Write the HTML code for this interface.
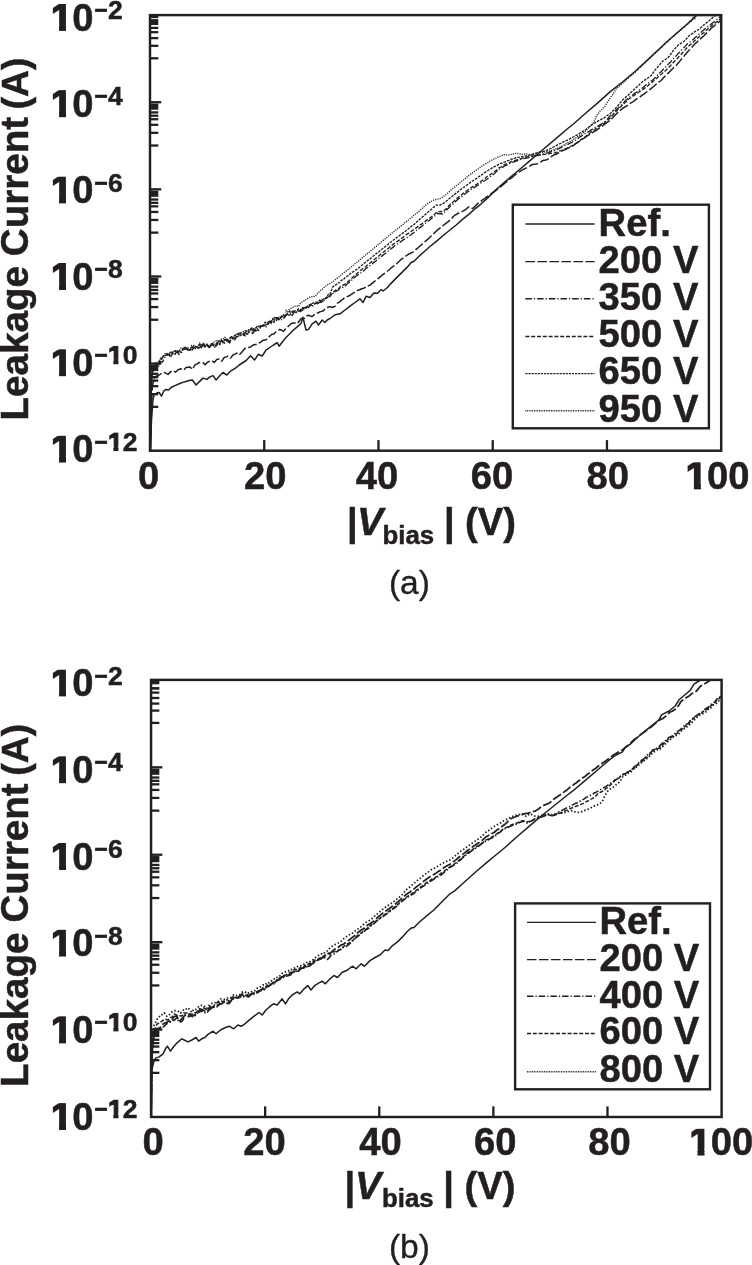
<!DOCTYPE html>
<html><head><meta charset="utf-8"><title>Leakage current</title>
<style>html,body{margin:0;padding:0;background:#fff}svg{display:block}text{font-family:"Liberation Sans",sans-serif}</style></head><body>
<svg width="752" height="1265" viewBox="0 0 752 1265">
<rect width="752" height="1265" fill="#fff"/>
<defs><clipPath id="c1a"><path d="M-6 -26.58H38.2V-6.15H15.01V0.3H8.07V-6.15H-6Z"/></clipPath><clipPath id="c1b"><path d="M-6 -18.53H26.5V-4.75H10.47V0.3H5.54V-4.75H-6Z"/></clipPath></defs>
<clipPath id="clipa"><rect x="150.0" y="15.1" width="571.20" height="435.60"/></clipPath>
<g clip-path="url(#clipa)" fill="none" stroke="#231f20" stroke-linejoin="round">
<polyline points="150.4,450.5 151.5,420.0 153.0,400.0 154.2,394.4 156.8,393.1 159.2,392.5 161.5,396.2 163.6,391.2 166.1,389.4 168.6,390.0 171.1,387.5 174.9,385.6 179.2,383.8 184.2,381.9 189.2,380.6 192.4,380.0 196.1,385.0 199.2,381.9 203.0,378.1 206.8,379.4 209.9,376.9 213.0,375.6 216.1,380.0 219.2,376.2 223.0,372.5 226.8,375.0 230.5,371.2 235.5,368.1 239.2,365.0 243.0,362.5 246.2,360.5 250.5,355.8 254.5,360.0 258.3,354.3 262.2,356.0 266.0,350.2 269.8,347.5 273.5,345.0 277.2,342.7 279.1,346.2 282.9,341.2 286.0,337.5 289.8,333.8 293.5,330.0 297.2,326.9 301.0,323.5 302.9,317.3 306.0,330.0 308.5,329.4 312.2,323.8 316.0,321.2 318.5,325.0 322.2,320.0 324.8,322.5 327.2,320.0 330.0,318.5 335.0,314.8 340.0,313.8 345.0,310.0 350.0,306.2 355.0,302.5 360.0,298.8 363.0,302.5 366.2,296.2 370.0,297.5 373.8,293.0 377.5,293.2 381.2,289.5 383.0,291.0 387.5,287.5 390.0,284.4 395.0,279.4 401.2,273.1 407.5,266.9 411.2,262.5 414.0,261.2 418.8,256.5 423.8,252.0 430.0,246.5 437.5,240.3 445.0,234.0 450.0,230.0 456.2,225.0 462.5,219.4 468.8,214.4 475.0,208.8 481.2,203.8 487.5,198.1 495.0,190.5 505.0,181.9 517.5,171.2 530.0,160.6 542.5,150.0 555.0,139.4 567.5,128.8 574.0,123.5 585.0,113.8 597.5,103.1 610.0,91.9 622.5,82.0 635.0,71.5 651.9,55.8 669.1,39.8 686.4,24.7 695.0,16.9 699.0,13.0" stroke-width="1.5"/>
<polyline points="150.4,450.5 150.4,448.9 150.5,447.3 150.5,445.6 150.5,444.0 150.6,442.4 150.6,440.8 150.7,439.2 150.7,437.5 150.7,435.9 150.8,434.3 150.8,432.7 150.8,431.1 150.9,429.4 150.9,427.8 150.9,426.2 151.0,424.6 151.0,423.0 151.0,421.3 151.1,419.7 151.1,418.1 151.2,416.5 151.2,414.9 151.2,413.2 151.3,411.6 151.3,410.0 151.4,408.3 151.5,406.7 151.5,405.0 151.6,403.3 151.7,401.7 151.8,400.0 151.9,398.3 151.9,396.7 152.0,395.0 152.1,393.3 152.2,391.7 152.3,390.0 152.3,388.3 152.4,386.7 152.5,385.0 153.0,383.4 153.5,381.8 154.0,380.2 154.5,378.6 155.0,377.0 157.1,376.0 159.2,375.0 161.8,373.1 164.2,372.5 166.1,373.4 168.0,374.4 170.5,371.9 173.0,370.6 175.5,372.2 178.0,369.8 181.1,368.8 183.6,370.2 186.1,367.5 188.0,367.2 189.9,366.9 192.4,369.4 193.7,367.2 194.9,365.0 197.1,363.8 199.2,362.5 201.1,362.5 203.0,362.5 204.9,364.8 208.0,361.9 209.9,361.2 211.8,360.6 214.2,362.5 216.8,359.4 219.9,358.8 221.8,361.2 223.0,359.4 224.2,357.5 226.1,356.9 228.0,356.2 230.5,358.1 233.0,355.0 234.9,354.1 236.8,353.1 239.2,355.0 242.0,352.0 243.4,350.3 244.8,348.5 246.4,348.2 248.1,347.3 249.8,347.5 251.6,346.2 253.5,344.8 255.4,344.6 257.2,344.5 259.1,343.2 261.0,341.9 262.9,340.4 264.8,339.9 266.6,339.5 268.5,337.4 270.4,335.5 272.2,334.2 274.1,333.8 276.0,331.8 277.9,330.6 279.8,329.4 281.6,330.2 283.5,331.4 285.4,329.0 287.2,327.4 289.1,325.5 291.0,323.8 292.9,323.0 294.8,322.9 297.2,323.7 299.1,321.2 301.0,318.6 302.9,318.4 304.8,318.2 306.6,316.0 308.5,315.2 310.4,316.1 312.2,316.5 314.1,314.9 316.0,313.2 317.9,313.0 319.8,311.9 321.6,311.4 323.5,310.7 325.4,308.3 327.2,307.5 330.0,306.6 331.9,307.5 333.8,306.8 335.0,306.4 336.2,304.5 337.5,303.1 339.4,302.1 341.2,300.3 343.1,299.2 345.0,297.2 347.1,296.6 349.2,295.8 351.2,294.3 353.3,293.1 355.4,291.7 357.5,290.5 359.6,289.7 361.7,288.8 363.8,288.2 365.8,287.2 367.9,286.0 370.0,285.1 372.1,283.4 374.2,281.7 376.2,280.0 378.3,278.4 380.4,276.7 382.5,274.9 384.6,273.3 386.7,271.7 388.8,270.0 390.8,268.2 392.9,266.7 395.0,265.1 397.1,263.2 399.2,261.3 401.2,259.3 403.3,257.9 405.4,256.3 407.5,254.9 409.1,254.0 410.8,253.1 412.4,252.3 414.0,251.3 416.0,249.4 418.0,247.8 420.0,246.0 421.6,244.6 423.2,243.1 424.8,241.8 426.4,240.4 428.0,239.1 429.9,237.2 431.8,235.4 433.7,233.6 435.6,231.8 437.5,230.1 439.6,228.4 441.7,226.8 443.8,225.0 445.8,223.4 447.9,221.8 450.0,220.1 451.7,218.4 453.3,216.5 455.0,215.1 456.7,214.3 458.3,213.2 460.0,212.4 461.7,211.6 463.3,210.9 465.0,210.0 466.9,208.4 468.8,206.8 470.6,207.7 472.5,208.6 474.2,207.2 475.8,205.5 477.5,203.7 479.2,202.6 480.8,201.4 482.5,199.9 484.2,198.8 485.8,197.5 487.5,196.4 489.1,195.3 490.8,193.9 492.4,192.9 494.0,192.0 495.6,190.6 497.2,189.3 498.8,188.2 500.4,186.9 502.0,185.6 503.6,184.1 505.2,182.8 506.8,181.7 508.4,180.2 510.0,179.0 511.9,177.6 513.8,176.0 515.6,174.5 517.5,172.9 519.6,171.6 521.7,170.4 523.8,169.1 525.6,168.3 527.5,167.2 529.2,166.5 530.8,165.4 532.5,164.5 534.2,164.2 535.8,164.0 537.5,163.7 539.2,162.6 540.8,161.8 542.5,160.7 544.2,160.2 545.8,159.9 547.5,159.5 549.2,158.0 550.8,157.0 552.5,155.7 554.2,154.9 555.8,154.2 557.5,153.5 560.0,151.9 561.8,151.1 563.6,150.2 565.4,149.6 567.1,148.5 568.9,147.8 570.7,146.9 572.5,146.1 574.3,144.9 576.1,143.5 577.9,142.3 579.6,141.0 581.4,139.8 583.2,138.7 585.0,137.6 586.8,136.2 588.6,135.1 590.4,134.1 592.1,132.9 593.9,131.7 595.7,130.8 597.5,129.4 599.3,128.2 601.1,126.9 602.9,125.6 604.6,124.2 606.4,122.9 608.2,121.7 610.0,120.5 611.6,118.8 613.1,117.3 614.7,115.7 616.2,113.9 618.3,112.3 620.4,110.4 622.5,108.5 624.6,107.2 626.7,106.0 628.8,104.5 630.8,102.9 632.9,101.8 635.0,100.1 637.1,98.7 639.2,97.5 641.2,95.9 643.0,94.6 644.8,93.3 646.6,92.0 648.4,90.5 650.1,89.3 651.9,87.8 653.6,86.5 655.3,85.0 657.1,83.5 658.8,82.2 660.5,81.0 662.2,79.2 663.9,77.3 665.7,75.7 667.4,73.9 669.1,72.2 670.8,70.4 672.6,68.7 674.3,67.0 676.1,65.5 677.8,63.5 679.2,62.0 680.7,60.1 682.1,58.3 683.5,56.8 685.0,54.8 686.4,53.3 688.1,51.3 689.9,49.5 691.6,47.6 693.4,45.6 695.1,43.7 696.8,42.3 698.5,40.5 700.3,38.9 702.0,37.4 703.7,36.0 705.4,34.1 707.2,32.4 708.9,30.8 710.7,29.0 712.4,27.3 714.3,25.8 716.2,24.1 718.1,22.6 720.0,21.1 722.0,19.5 724.0,18.1" stroke-width="1.5" stroke-dasharray="9.5 2.5"/>
<polyline points="150.4,451.3 150.4,450.2 150.4,450.3 150.5,446.4 150.5,445.0 150.5,443.8 150.5,440.2 150.5,440.2 150.6,439.1 150.6,438.2 150.6,433.3 150.6,432.6 150.6,430.0 150.7,431.8 150.7,429.6 150.7,424.9 150.7,427.8 150.7,426.0 150.7,422.9 150.8,421.1 150.8,417.3 150.8,415.0 150.8,415.8 150.8,411.9 150.9,410.9 150.9,409.5 150.9,406.9 150.9,407.3 150.9,405.6 151.0,405.9 151.0,402.7 151.0,401.7 151.1,399.4 151.1,398.5 151.2,395.9 151.2,393.4 151.2,395.3 151.3,393.6 151.3,391.3 151.4,389.0 151.5,385.5 151.5,383.5 151.6,382.1 151.6,379.4 151.7,381.2 151.7,377.8 151.8,378.3 151.8,374.5 152.2,375.4 152.6,373.0 153.0,367.1 156.0,365.6 158.3,367.0 160.4,361.9 162.5,362.0 165.0,357.1 168.0,354.0 169.7,356.0 171.3,356.1 173.0,353.0 175.1,351.5 177.2,352.1 179.2,354.5 181.3,352.9 183.4,349.2 185.5,349.2 187.6,348.2 189.7,347.7 191.8,350.9 193.8,347.4 195.9,348.7 198.0,347.6 199.7,345.8 201.3,347.7 203.0,344.2 204.9,347.1 206.8,345.0 209.2,347.6 211.1,345.4 213.0,344.4 214.7,347.1 216.3,345.6 218.0,342.6 219.7,344.7 221.3,340.8 223.0,341.1 224.7,343.3 226.3,342.2 228.0,339.6 229.7,343.0 231.3,338.5 233.0,337.9 234.7,339.8 236.3,337.1 238.0,336.3 240.0,334.4 242.0,333.5 243.6,335.3 245.2,333.0 246.9,334.1 248.5,332.4 250.6,331.9 252.7,333.5 254.8,330.4 256.8,330.0 258.9,330.6 261.0,326.5 263.1,325.2 265.2,327.6 267.2,326.0 269.3,322.1 271.4,320.7 273.5,322.1 275.6,322.3 277.7,317.9 279.8,320.7 281.8,319.5 283.9,317.3 286.0,315.6 288.1,313.3 290.2,312.1 292.2,315.7 294.3,311.5 296.4,312.7 298.5,310.0 300.6,311.6 302.7,309.9 304.8,308.0 306.8,306.5 308.9,307.5 311.0,304.1 313.1,303.8 315.2,304.0 317.2,304.0 319.3,302.4 321.4,300.5 323.5,301.4 325.1,298.5 326.8,297.1 328.4,296.9 330.0,296.4 332.1,293.9 334.2,292.5 336.2,291.2 338.0,290.4 339.8,288.5 341.5,287.7 343.2,287.3 345.0,286.2 347.1,284.0 349.2,282.4 351.2,280.6 353.3,278.5 355.4,276.8 357.5,275.2 359.6,274.0 361.7,272.3 363.8,270.7 365.8,268.6 367.9,267.2 370.0,265.5 372.1,263.9 374.2,262.1 376.2,260.7 378.3,258.6 380.4,257.2 382.5,255.6 384.6,254.0 386.7,252.3 388.8,250.6 390.8,249.0 392.9,247.4 395.0,245.4 397.1,244.2 399.2,242.9 401.2,241.4 403.3,239.8 405.4,238.6 407.5,237.2 409.1,235.9 410.8,234.8 412.4,233.6 414.0,232.5 416.0,230.9 418.0,229.0 420.0,227.6 421.7,226.4 423.3,225.0 425.0,223.6 427.1,221.9 429.2,220.5 431.2,218.8 433.3,217.0 435.4,215.4 437.5,213.3 439.2,213.8 440.8,213.5 442.5,214.0 444.4,212.2 446.2,210.4 448.1,208.6 450.0,206.5 452.1,204.7 454.2,203.0 456.2,200.9 458.3,199.1 460.4,197.6 462.5,196.1 464.6,194.2 466.7,192.5 468.8,191.2 470.8,189.7 472.9,188.3 475.0,187.2 477.1,185.6 479.2,184.4 481.2,182.8 483.3,181.5 485.4,180.2 487.5,178.7 489.1,177.6 490.8,176.2 492.4,175.2 494.0,173.9 496.4,171.6 498.8,169.5 500.8,168.4 502.9,167.1 505.0,165.7 507.1,165.0 509.2,163.8 511.2,162.8 513.3,162.2 515.4,161.3 517.5,160.5 519.6,159.9 521.7,159.3 523.8,158.6 525.8,158.0 527.9,157.8 530.0,157.4 532.1,156.7 534.2,156.1 536.2,155.6 538.3,155.5 540.4,154.6 542.5,154.5 544.6,153.8 546.7,153.1 548.8,152.7 550.8,151.7 552.9,151.0 555.0,150.5 557.1,149.3 559.2,148.7 561.2,147.4 563.3,146.3 565.4,145.3 567.5,144.6 569.2,143.6 570.8,142.8 572.5,142.0 574.3,140.9 576.1,139.8 577.9,138.5 579.6,137.1 581.4,136.1 583.2,134.8 585.0,133.5 586.8,132.7 588.6,131.7 590.4,130.4 592.1,129.4 593.9,128.3 595.7,127.4 597.5,126.3 599.6,125.1 601.7,123.9 603.8,122.4 605.8,120.6 607.9,118.5 610.0,116.0 612.1,114.4 614.2,112.2 616.2,109.8 618.3,107.9 620.4,105.9 622.5,104.0 624.6,101.6 626.7,99.6 628.8,97.7 630.8,96.2 632.9,94.8 635.0,93.1 637.1,91.7 639.2,90.1 641.2,88.9 643.3,87.2 645.4,85.5 647.5,83.9 649.1,82.4 650.8,81.4 652.4,80.2 654.0,79.0 655.6,77.1 657.2,75.5 658.9,73.6 660.5,72.2 662.2,70.5 663.9,68.5 665.7,66.7 667.4,65.2 669.1,63.5 670.8,61.7 672.6,59.7 674.3,57.6 676.1,56.1 677.8,53.8 679.5,52.3 681.2,50.2 683.0,48.5 684.7,46.9 686.4,44.8 688.1,43.3 689.9,42.0 691.6,40.6 693.4,39.2 695.1,37.6 696.8,36.2 698.5,34.5 700.3,33.2 702.0,31.3 703.7,29.9 705.4,28.6 707.2,27.1 708.9,25.9 710.7,24.5 712.4,23.0 714.3,21.7 716.2,20.0 718.1,18.4 720.0,16.9 722.0,15.7 724.0,14.2" stroke-width="1.35" stroke-dasharray="6.5 2 1.2 2"/>
<polyline points="150.4,450.7 150.4,449.9 150.4,448.3 150.5,444.2 150.5,441.9 150.5,442.1 150.5,439.9 150.5,440.9 150.6,438.7 150.6,436.6 150.6,434.8 150.6,433.7 150.6,429.5 150.7,429.3 150.7,426.4 150.7,428.3 150.7,422.6 150.7,424.6 150.7,419.4 150.8,420.7 150.8,417.4 150.8,416.1 150.8,416.6 150.8,411.0 150.9,409.6 150.9,412.1 150.9,408.5 150.9,404.9 150.9,407.5 151.0,405.7 151.0,400.1 151.0,399.9 151.1,396.9 151.1,396.2 151.2,396.0 151.2,392.2 151.2,393.1 151.3,388.4 151.3,387.3 151.4,388.8 151.5,385.2 151.5,383.7 151.6,382.9 151.6,380.7 151.7,378.6 151.7,375.3 151.8,377.0 151.8,376.5 152.2,374.8 152.6,371.4 153.0,368.1 156.0,365.6 158.3,365.2 160.4,362.1 162.5,357.1 165.0,355.6 168.0,354.6 169.7,354.7 171.3,355.5 173.0,353.4 175.1,350.5 177.2,353.7 179.2,351.2 181.3,351.0 183.4,349.0 185.5,349.4 187.6,348.9 189.7,350.4 191.8,346.9 193.8,348.5 195.9,346.2 198.0,348.1 199.7,344.3 201.3,344.9 203.0,344.6 204.9,346.4 206.8,343.9 209.2,347.1 211.1,344.7 213.0,343.8 214.7,344.0 216.3,345.7 218.0,342.7 219.7,344.4 221.3,339.9 223.0,342.9 224.7,340.2 226.3,339.3 228.0,342.0 229.7,342.0 231.3,336.8 233.0,337.3 234.7,339.1 236.3,336.4 238.0,335.4 240.0,333.3 242.0,332.6 243.6,334.7 245.2,335.9 246.9,335.3 248.5,332.3 250.6,329.2 252.7,329.8 254.8,331.2 256.8,330.6 258.9,328.8 261.0,326.0 263.1,326.3 265.2,324.9 267.2,324.4 269.3,321.5 271.4,323.6 273.5,322.2 275.6,317.8 277.7,317.6 279.8,319.6 281.8,315.9 283.9,318.3 286.0,315.4 288.1,315.4 290.2,314.6 292.2,311.5 294.3,311.0 296.4,310.1 298.5,311.1 300.6,310.4 302.7,307.5 304.8,309.8 306.8,306.9 308.9,305.3 311.0,305.0 313.1,306.0 315.2,303.7 317.2,303.0 319.3,303.0 321.4,302.2 323.5,300.8 325.1,298.6 326.8,297.8 328.4,297.2 330.0,295.7 332.1,293.5 334.2,291.3 336.2,289.7 338.0,289.1 339.8,287.5 341.5,285.3 343.2,285.1 345.0,284.1 347.1,282.2 349.2,280.6 351.2,278.9 353.3,276.7 355.4,275.1 357.5,272.9 359.6,271.1 361.7,269.6 363.8,267.9 365.8,266.6 367.9,264.8 370.0,263.0 372.1,261.4 374.2,259.5 376.2,258.0 378.3,256.4 380.4,254.6 382.5,252.9 384.6,251.3 386.7,249.6 388.8,248.1 390.8,246.2 392.9,244.5 395.0,242.9 397.1,241.6 399.2,240.1 401.2,238.6 403.3,237.2 405.4,235.4 407.5,233.8 409.1,232.9 410.8,231.7 412.4,230.5 414.0,229.6 416.0,227.9 418.0,226.4 420.0,224.9 421.7,224.1 423.3,222.4 425.0,221.4 427.1,219.9 429.2,218.4 431.2,217.0 433.3,215.0 435.4,213.5 437.5,211.5 439.2,211.7 440.8,211.5 442.5,211.7 444.4,210.2 446.2,208.7 448.1,206.4 450.0,204.5 452.1,202.8 454.2,201.0 456.2,198.9 458.3,197.4 460.4,195.8 462.5,193.9 464.6,192.4 466.7,190.7 468.8,189.2 470.8,187.8 472.9,186.6 475.0,185.1 477.1,184.0 479.2,182.4 481.2,181.2 483.3,179.6 485.4,178.0 487.5,176.3 489.1,175.2 490.8,174.3 492.4,173.0 494.0,171.8 496.4,170.2 498.8,167.9 500.8,167.0 502.9,165.6 505.0,164.3 507.1,163.7 509.2,162.9 511.2,161.7 513.3,160.8 515.4,160.3 517.5,159.6 519.6,158.9 521.7,158.3 523.8,157.6 525.8,157.3 527.9,156.7 530.0,156.4 532.1,156.0 534.2,155.7 536.2,155.3 538.3,155.4 540.4,154.8 542.5,154.7 544.6,154.3 546.7,154.4 548.8,153.8 550.8,153.2 552.9,153.2 555.0,152.8 557.1,152.1 559.2,151.2 561.2,150.7 563.3,149.6 565.4,148.7 567.5,148.2 569.2,147.3 570.8,146.2 572.5,145.7 574.3,144.1 576.2,143.1 578.0,141.8 579.8,140.6 581.5,139.3 583.2,138.4 585.0,136.9 587.1,135.2 589.2,133.5 591.2,131.9 593.3,130.7 595.4,129.1 597.5,127.3 599.6,126.3 601.7,124.9 603.8,123.5 605.8,121.7 607.9,119.9 610.0,118.2 611.6,116.4 613.1,114.8 614.7,113.1 616.2,111.6 617.8,109.8 619.4,108.2 620.9,106.6 622.5,105.1 624.6,102.9 626.7,101.2 628.8,99.0 630.8,97.7 632.9,96.1 635.0,94.7 637.1,93.3 639.2,91.8 641.2,90.5 643.3,89.1 645.4,87.6 647.5,86.2 649.1,84.6 650.8,83.3 652.4,82.1 654.0,80.8 655.6,79.3 657.2,77.8 658.9,76.4 660.5,74.8 662.2,73.5 663.9,71.9 665.7,70.4 667.4,68.8 669.1,67.1 670.8,65.4 672.6,63.2 674.3,61.5 676.1,60.0 677.8,58.0 679.5,56.0 681.2,54.3 683.0,52.3 684.7,50.4 686.4,48.4 688.1,46.7 689.9,44.9 691.6,43.5 693.4,41.9 695.1,40.2 696.8,38.6 698.5,37.2 700.3,35.4 702.0,33.9 703.7,32.7 705.4,31.1 707.2,29.6 708.9,27.8 710.7,26.4 712.4,25.0 714.3,23.6 716.2,22.2 718.1,20.6 720.0,18.9 722.0,17.4 724.0,16.2" stroke-width="1.35" stroke-dasharray="4 1.8"/>
<polyline points="150.4,448.9 150.4,449.4 150.4,447.7 150.5,446.9 150.5,442.1 150.5,440.7 150.5,438.6 150.5,437.4 150.6,438.2 150.6,433.7 150.6,434.0 150.6,430.8 150.6,429.6 150.7,428.6 150.7,428.9 150.7,426.2 150.7,421.7 150.7,421.3 150.7,419.1 150.8,420.9 150.8,419.0 150.8,417.4 150.8,415.8 150.8,413.8 150.9,413.2 150.9,410.8 150.9,406.6 150.9,407.8 150.9,404.4 151.0,404.1 151.0,401.5 151.0,399.3 151.1,397.3 151.1,396.0 151.2,393.8 151.2,391.3 151.2,393.0 151.3,391.3 151.3,390.6 151.4,387.5 151.5,385.2 151.5,384.5 151.6,380.0 151.6,380.9 151.7,378.2 151.7,375.3 151.8,373.8 151.8,373.7 152.2,370.6 152.6,369.7 153.0,368.6 156.0,365.1 158.3,361.8 160.4,360.6 162.5,357.0 165.0,354.9 168.0,353.1 169.7,353.3 171.3,351.3 173.0,353.4 175.1,354.3 177.2,350.9 179.2,351.9 181.3,352.3 183.4,347.4 185.5,347.3 187.6,350.2 189.7,350.0 191.8,348.8 193.8,345.9 195.9,346.6 198.0,348.3 199.7,347.7 201.3,346.7 203.0,343.2 204.9,346.7 206.8,344.8 209.2,347.6 211.1,343.6 213.0,346.4 214.7,343.9 216.3,343.8 218.0,340.7 219.7,342.0 221.3,341.2 223.0,340.6 224.7,339.5 226.3,341.2 228.0,339.3 229.7,338.3 231.3,336.9 233.0,338.6 234.7,335.2 236.3,335.2 238.0,333.8 240.0,335.7 242.0,334.4 243.6,333.7 245.2,330.6 246.9,331.9 248.5,330.8 250.6,328.8 252.7,327.5 254.8,331.5 256.8,326.4 258.9,326.5 261.0,325.5 263.1,325.9 265.2,322.2 267.2,323.0 269.3,321.3 271.4,322.4 273.5,317.2 275.6,318.0 277.7,317.9 279.8,319.4 281.8,316.3 283.9,315.3 286.0,315.4 288.1,312.8 290.2,310.7 292.2,312.1 294.3,313.1 296.4,311.5 298.5,308.6 300.6,309.7 302.7,309.7 304.8,306.7 306.8,307.0 308.9,305.2 311.0,303.9 313.1,303.2 315.2,302.2 317.2,301.9 319.3,300.2 321.4,300.4 323.5,298.8 325.1,299.1 326.8,297.2 328.4,294.3 330.0,294.6 330.6,291.7 331.2,290.7 331.9,289.2 332.5,287.1 334.3,285.7 336.1,284.7 337.9,282.8 339.6,282.7 341.4,280.2 343.2,279.9 345.0,277.7 346.8,276.5 348.6,275.3 350.4,273.6 352.1,272.4 353.9,271.3 355.7,270.0 357.5,269.0 359.3,267.5 361.1,265.7 362.9,264.5 364.6,262.9 366.4,261.7 368.2,260.1 370.0,258.9 371.8,257.3 373.6,255.7 375.4,254.3 377.1,252.9 378.9,251.8 380.7,250.0 382.5,248.7 384.3,247.3 386.1,245.8 387.9,244.6 389.6,242.9 391.4,241.7 393.2,240.2 395.0,238.9 396.8,237.5 398.6,236.3 400.4,234.8 402.1,233.6 403.9,232.3 405.7,231.0 407.5,229.8 409.2,228.1 410.8,226.8 412.5,225.6 414.6,223.9 416.7,221.9 418.8,219.9 420.8,218.5 422.9,216.6 425.0,214.8 427.1,213.0 429.2,211.1 431.2,209.5 432.9,207.8 434.6,206.6 436.2,205.1 438.1,205.2 440.0,205.1 441.9,204.0 443.8,203.1 445.8,201.6 447.9,199.9 450.0,198.0 452.1,196.5 454.2,194.6 456.2,193.0 458.3,191.6 460.4,189.8 462.5,188.0 464.6,186.8 466.7,185.2 468.8,183.6 470.8,182.1 472.9,180.8 475.0,179.3 477.1,178.1 479.2,176.4 481.2,175.1 482.9,174.0 484.6,172.6 486.2,171.7 488.3,170.3 490.4,169.0 492.5,167.6 494.6,166.6 496.7,165.7 498.8,164.4 500.8,163.4 502.9,162.7 505.0,161.9 507.1,160.9 509.2,160.3 511.2,159.2 513.3,158.9 515.4,158.0 517.5,157.3 519.6,157.1 521.7,156.6 523.8,156.4 525.8,155.8 527.9,155.4 530.0,155.1 531.7,154.3 533.3,154.0 535.0,153.4 536.7,152.8 538.3,152.6 540.0,151.8 541.7,151.9 543.3,151.4 545.0,151.4 546.7,150.3 548.3,149.4 550.0,148.8 551.7,148.1 553.3,147.0 555.0,146.2 557.1,145.2 559.2,144.0 561.2,143.1 563.3,141.9 565.4,141.0 567.5,140.1 569.2,139.1 570.8,138.2 572.5,137.3 574.3,136.5 576.1,135.3 577.9,134.5 579.6,133.3 581.4,132.0 583.2,131.2 585.0,130.2 587.1,128.5 589.2,126.8 591.2,125.1 593.3,123.8 595.4,122.6 597.5,121.3 599.6,120.1 601.7,119.0 603.8,118.2 605.8,116.7 607.9,115.0 610.0,113.8 612.1,111.7 614.2,109.6 616.2,107.6 617.8,105.8 619.4,103.7 620.9,102.0 622.5,100.0 624.6,98.2 626.7,96.2 628.8,94.6 630.8,92.5 632.9,90.8 635.0,88.7 637.1,86.8 639.2,84.8 641.3,82.7 643.4,81.1 645.4,79.6 647.5,78.3 649.2,77.0 650.9,75.8 652.3,73.9 653.7,72.0 655.1,69.9 656.6,68.2 658.1,66.5 659.6,64.9 661.1,62.9 662.6,61.3 664.4,60.1 666.1,59.0 667.9,57.8 669.2,56.3 670.5,54.2 671.9,52.7 673.2,50.6 675.0,48.6 676.7,47.0 678.5,44.7 680.3,43.7 682.0,42.6 683.8,41.5 685.6,39.7 687.3,37.7 689.1,35.7 690.9,34.4 692.7,33.4 694.5,31.9 696.6,30.7 698.7,29.5 700.4,28.2 702.0,26.6 703.7,25.1 705.4,23.7 707.2,22.3 708.9,20.9 710.7,19.3 712.4,17.8 714.1,16.7 715.8,15.3 717.5,14.0" stroke-width="1.35" stroke-dasharray="2.6 1.1"/>
<polyline points="150.4,447.6 150.4,448.8 150.4,447.0 150.5,446.7 150.5,441.9 150.5,440.2 150.5,440.8 150.5,438.9 150.6,435.5 150.6,435.7 150.6,432.7 150.6,432.9 150.6,428.1 150.7,427.0 150.7,428.6 150.7,424.4 150.7,422.3 150.7,423.3 150.7,420.8 150.8,416.9 150.8,417.2 150.8,416.1 150.8,412.1 150.8,412.8 150.9,408.6 150.9,408.0 150.9,405.1 150.9,404.1 150.9,406.2 151.0,401.8 151.0,403.0 151.0,398.7 151.1,397.9 151.1,397.5 151.2,395.0 151.2,390.6 151.2,391.3 151.3,389.9 151.3,386.1 151.4,384.1 151.5,386.2 151.5,382.8 151.6,379.7 151.6,379.3 151.7,376.5 151.7,377.7 151.8,374.6 151.8,371.1 152.2,372.7 152.6,367.4 153.0,366.4 156.0,362.7 158.3,364.2 160.4,358.1 162.5,357.8 165.0,353.6 168.0,353.9 169.7,354.3 171.3,352.9 173.0,351.9 175.1,351.4 177.2,350.6 179.2,350.7 181.3,347.7 183.4,348.9 185.5,347.1 187.6,349.9 189.7,349.9 191.8,345.4 193.8,345.3 195.9,347.4 198.0,346.2 199.7,343.0 201.3,345.6 203.0,346.1 204.9,344.0 206.8,344.1 209.2,346.3 211.1,346.9 213.0,342.4 214.7,341.9 216.3,340.7 218.0,342.1 219.7,340.7 221.3,339.1 223.0,339.1 224.7,337.3 226.3,338.6 228.0,341.8 229.7,339.1 231.3,336.9 233.0,339.2 234.7,335.8 236.3,334.7 238.0,333.1 240.0,332.7 242.0,332.1 243.6,331.6 245.2,334.0 246.9,330.5 248.5,329.8 250.6,330.7 252.7,331.3 254.8,327.5 256.8,328.9 258.9,326.2 261.0,326.3 263.1,325.3 265.2,325.8 267.2,323.7 269.3,321.4 271.4,321.8 273.5,318.5 275.6,317.8 277.7,319.5 279.8,317.0 281.8,317.1 283.9,314.6 286.0,316.0 286.0,313.2 286.0,310.1 287.6,311.8 289.2,309.5 290.9,308.4 292.5,307.5 294.5,306.3 296.5,305.9 298.5,306.5 300.6,303.2 302.7,301.7 304.8,300.4 306.8,299.3 308.9,297.6 311.0,297.0 312.9,296.3 314.8,296.6 316.3,295.1 317.9,293.1 319.4,291.6 321.0,290.0 322.8,288.9 324.5,286.9 326.2,285.7 328.3,284.3 330.4,283.2 332.5,282.0 334.6,280.3 336.7,278.7 338.8,276.9 340.8,275.3 342.9,273.4 345.0,271.9 347.1,270.2 349.2,268.6 351.2,267.0 353.3,265.3 355.4,263.4 357.5,262.0 359.6,260.2 361.7,258.3 363.8,256.4 365.8,254.9 367.9,253.1 370.0,251.5 372.1,249.8 374.2,248.1 376.2,246.4 378.3,244.4 380.4,242.9 382.5,240.9 384.6,239.2 386.7,237.5 388.8,235.8 390.8,234.0 392.9,232.4 395.0,230.8 397.1,229.1 399.2,227.4 401.2,225.7 402.9,224.6 404.6,223.0 406.2,221.8 408.3,220.1 410.4,218.2 412.5,216.8 414.6,214.8 416.7,213.2 418.8,211.4 420.8,209.5 422.9,207.6 425.0,205.6 427.1,204.1 429.2,202.7 431.2,201.4 432.9,200.5 434.6,199.9 436.2,199.5 437.9,199.1 439.6,198.6 441.2,198.2 442.9,196.9 444.6,195.7 446.2,194.4 448.3,192.6 450.4,190.5 452.5,188.7 454.6,187.1 456.7,185.5 458.8,183.7 460.8,182.1 462.9,180.6 465.0,178.7 467.1,177.0 469.2,175.3 471.2,173.9 473.3,172.3 475.4,170.8 477.5,169.4 479.6,167.8 481.7,166.4 483.8,164.9 485.8,163.7 487.9,162.6 490.0,161.2 492.0,160.0 494.0,159.1 496.4,158.0 498.8,156.8 500.4,156.2 502.1,155.4 503.8,154.6 505.4,154.8 507.1,154.8 508.8,154.9 510.4,154.7 512.1,154.2 513.8,153.8 515.6,153.4 517.5,153.3 519.4,153.9 521.2,154.4 522.9,154.2 524.6,154.0 526.2,153.8 528.1,154.3 530.0,155.0 531.9,154.8 533.8,154.3 535.8,153.8 537.9,153.4 540.0,152.7 541.6,152.6 543.2,152.2 544.8,152.1 546.4,151.8 548.0,151.4 549.6,151.0 551.2,150.6 552.8,150.0 554.4,149.5 556.0,149.0 557.8,148.2 559.6,147.1 561.4,146.4 563.2,145.3 565.0,144.5 566.7,143.4 568.3,142.4 570.0,141.5 571.7,140.6 573.3,139.4 575.0,138.5 576.7,137.3 578.3,136.2 580.0,135.0 581.7,133.8 583.3,132.8 585.0,131.5 586.7,129.8 588.3,128.3 590.0,126.6 591.9,124.5 593.8,122.4 594.6,120.4 595.4,118.5 596.2,116.2 597.5,114.5 598.8,113.0 600.0,111.1 601.7,109.7 603.3,107.8 605.0,106.2 606.2,104.2 607.5,102.0 608.8,100.1 610.0,98.3 611.2,96.7 612.5,95.1 613.8,92.8 615.0,90.9 616.2,88.8 617.9,87.3 619.6,85.9 621.2,84.4 623.1,82.8 625.0,81.1 626.7,79.5 628.3,78.1 630.0,76.5 631.7,75.3 633.3,73.8 635.0,72.4 636.7,70.6 638.4,69.2 640.1,67.4 641.8,66.0 643.5,64.3 645.1,62.9 646.8,61.1 648.5,59.7 650.2,58.1 651.9,56.5 653.6,54.7 655.3,53.3 657.1,51.8 658.8,50.0 660.5,48.5 662.2,46.7 663.9,45.1 665.7,43.5 667.4,42.1 669.1,40.4 670.8,38.8 672.6,37.1 674.3,35.8 676.0,34.1 677.8,32.6 679.5,31.2 681.2,29.7 682.9,28.1 684.7,26.7 686.4,25.3 688.0,23.9 689.7,22.5 691.4,20.9 693.0,19.4 695.5,18.6 694.0,17.0 692.5,18.3" stroke-width="1.35" stroke-dasharray="1.15 1.15"/>
</g>
<rect x="150.0" y="15.1" width="571.20" height="435.60" fill="none" stroke="#231f20" stroke-width="2.45"/>
<g stroke="#231f20" stroke-width="2.3"><line x1="150.0" y1="17.00" x2="158.30" y2="17.00"/><rect x="150.0" y="19.10" width="8.3" height="5.90" fill="#231f20" stroke="none"/><line x1="150.0" y1="27.90" x2="158.30" y2="27.90"/><line x1="150.0" y1="32.20" x2="158.30" y2="32.20"/><line x1="150.0" y1="38.10" x2="158.30" y2="38.10"/><line x1="150.0" y1="45.80" x2="158.30" y2="45.80"/><line x1="150.0" y1="58.30" x2="158.30" y2="58.30"/><line x1="150.0" y1="102.22" x2="161.30" y2="102.22"/><rect x="150.0" y="103.52" width="8.3" height="6.20" fill="#231f20" stroke="none"/><line x1="150.0" y1="112.42" x2="158.30" y2="112.42"/><line x1="150.0" y1="115.72" x2="158.30" y2="115.72"/><line x1="150.0" y1="119.22" x2="158.30" y2="119.22"/><line x1="150.0" y1="124.82" x2="158.30" y2="124.82"/><line x1="150.0" y1="132.82" x2="158.30" y2="132.82"/><line x1="150.0" y1="145.52" x2="158.30" y2="145.52"/><line x1="150.0" y1="189.34" x2="161.30" y2="189.34"/><rect x="150.0" y="190.64" width="8.3" height="6.20" fill="#231f20" stroke="none"/><line x1="150.0" y1="199.54" x2="158.30" y2="199.54"/><line x1="150.0" y1="202.84" x2="158.30" y2="202.84"/><line x1="150.0" y1="206.34" x2="158.30" y2="206.34"/><line x1="150.0" y1="211.94" x2="158.30" y2="211.94"/><line x1="150.0" y1="219.94" x2="158.30" y2="219.94"/><line x1="150.0" y1="232.64" x2="158.30" y2="232.64"/><line x1="150.0" y1="276.46" x2="161.30" y2="276.46"/><rect x="150.0" y="277.76" width="8.3" height="6.20" fill="#231f20" stroke="none"/><line x1="150.0" y1="286.66" x2="158.30" y2="286.66"/><line x1="150.0" y1="289.96" x2="158.30" y2="289.96"/><line x1="150.0" y1="293.46" x2="158.30" y2="293.46"/><line x1="150.0" y1="299.06" x2="158.30" y2="299.06"/><line x1="150.0" y1="307.06" x2="158.30" y2="307.06"/><line x1="150.0" y1="319.76" x2="158.30" y2="319.76"/><line x1="150.0" y1="363.58" x2="161.30" y2="363.58"/><rect x="150.0" y="364.88" width="8.3" height="6.20" fill="#231f20" stroke="none"/><line x1="150.0" y1="373.78" x2="158.30" y2="373.78"/><line x1="150.0" y1="377.08" x2="158.30" y2="377.08"/><line x1="150.0" y1="380.58" x2="158.30" y2="380.58"/><line x1="150.0" y1="386.18" x2="158.30" y2="386.18"/><line x1="150.0" y1="394.18" x2="158.30" y2="394.18"/><line x1="150.0" y1="406.88" x2="158.30" y2="406.88"/><line x1="264.24" y1="450.7" x2="264.24" y2="440.09999999999997"/><line x1="378.48" y1="450.7" x2="378.48" y2="440.09999999999997"/><line x1="492.72" y1="450.7" x2="492.72" y2="440.09999999999997"/><line x1="606.96" y1="450.7" x2="606.96" y2="440.09999999999997"/></g>
<g><g transform="translate(51.00,30.50)"><text clip-path="url(#c1a)" font-size="38.2" font-weight="bold" fill="#231f20" stroke="#231f20" stroke-width="1.5">1</text></g><text x="72.25" y="30.5" font-size="38.2" font-weight="bold" fill="#231f20" stroke="#231f20" stroke-width="0.5">0</text><text x="94.29" y="18.8" font-size="26.5" font-weight="bold" fill="#231f20" stroke="#231f20" stroke-width="0.5" textLength="13.6" lengthAdjust="spacingAndGlyphs">−</text><text x="107.89" y="18.8" font-size="26.5" font-weight="bold" fill="#231f20" stroke="#231f20" stroke-width="0.5">2</text></g>
<g><g transform="translate(51.00,116.88)"><text clip-path="url(#c1a)" font-size="38.2" font-weight="bold" fill="#231f20" stroke="#231f20" stroke-width="1.5">1</text></g><text x="72.25" y="116.9" font-size="38.2" font-weight="bold" fill="#231f20" stroke="#231f20" stroke-width="0.5">0</text><text x="94.29" y="105.2" font-size="26.5" font-weight="bold" fill="#231f20" stroke="#231f20" stroke-width="0.5" textLength="13.6" lengthAdjust="spacingAndGlyphs">−</text><text x="107.89" y="105.2" font-size="26.5" font-weight="bold" fill="#231f20" stroke="#231f20" stroke-width="0.5">4</text></g>
<g><g transform="translate(51.00,203.26)"><text clip-path="url(#c1a)" font-size="38.2" font-weight="bold" fill="#231f20" stroke="#231f20" stroke-width="1.5">1</text></g><text x="72.25" y="203.3" font-size="38.2" font-weight="bold" fill="#231f20" stroke="#231f20" stroke-width="0.5">0</text><text x="94.29" y="191.6" font-size="26.5" font-weight="bold" fill="#231f20" stroke="#231f20" stroke-width="0.5" textLength="13.6" lengthAdjust="spacingAndGlyphs">−</text><text x="107.89" y="191.6" font-size="26.5" font-weight="bold" fill="#231f20" stroke="#231f20" stroke-width="0.5">6</text></g>
<g><g transform="translate(51.00,289.64)"><text clip-path="url(#c1a)" font-size="38.2" font-weight="bold" fill="#231f20" stroke="#231f20" stroke-width="1.5">1</text></g><text x="72.25" y="289.6" font-size="38.2" font-weight="bold" fill="#231f20" stroke="#231f20" stroke-width="0.5">0</text><text x="94.29" y="277.9" font-size="26.5" font-weight="bold" fill="#231f20" stroke="#231f20" stroke-width="0.5" textLength="13.6" lengthAdjust="spacingAndGlyphs">−</text><text x="107.89" y="277.9" font-size="26.5" font-weight="bold" fill="#231f20" stroke="#231f20" stroke-width="0.5">8</text></g>
<g><g transform="translate(51.00,376.02)"><text clip-path="url(#c1a)" font-size="38.2" font-weight="bold" fill="#231f20" stroke="#231f20" stroke-width="1.5">1</text></g><text x="72.25" y="376.0" font-size="38.2" font-weight="bold" fill="#231f20" stroke="#231f20" stroke-width="0.5">0</text><text x="94.29" y="364.3" font-size="26.5" font-weight="bold" fill="#231f20" stroke="#231f20" stroke-width="0.5" textLength="13.6" lengthAdjust="spacingAndGlyphs">−</text><g transform="translate(107.89,364.32)"><text clip-path="url(#c1b)" font-size="26.5" font-weight="bold" fill="#231f20" stroke="#231f20" stroke-width="1.1">1</text></g><text x="122.63" y="364.3" font-size="26.5" font-weight="bold" fill="#231f20" stroke="#231f20" stroke-width="0.5">0</text></g>
<g><g transform="translate(51.00,462.40)"><text clip-path="url(#c1a)" font-size="38.2" font-weight="bold" fill="#231f20" stroke="#231f20" stroke-width="1.5">1</text></g><text x="72.25" y="462.4" font-size="38.2" font-weight="bold" fill="#231f20" stroke="#231f20" stroke-width="0.5">0</text><text x="94.29" y="450.7" font-size="26.5" font-weight="bold" fill="#231f20" stroke="#231f20" stroke-width="0.5" textLength="13.6" lengthAdjust="spacingAndGlyphs">−</text><g transform="translate(107.89,450.70)"><text clip-path="url(#c1b)" font-size="26.5" font-weight="bold" fill="#231f20" stroke="#231f20" stroke-width="1.1">1</text></g><text x="122.63" y="450.7" font-size="26.5" font-weight="bold" fill="#231f20" stroke="#231f20" stroke-width="0.5">2</text></g>
<text x="148.7" y="489.1" text-anchor="middle" font-size="38.2" font-weight="bold" fill="#231f20" stroke="#231f20" stroke-width="0.5">0</text>
<text x="265.2" y="489.1" text-anchor="middle" font-size="38.2" font-weight="bold" fill="#231f20" stroke="#231f20" stroke-width="0.5">20</text>
<text x="377.1" y="489.1" text-anchor="middle" font-size="38.2" font-weight="bold" fill="#231f20" stroke="#231f20" stroke-width="0.5">40</text>
<text x="492.1" y="489.1" text-anchor="middle" font-size="38.2" font-weight="bold" fill="#231f20" stroke="#231f20" stroke-width="0.5">60</text>
<text x="607.8" y="489.1" text-anchor="middle" font-size="38.2" font-weight="bold" fill="#231f20" stroke="#231f20" stroke-width="0.5">80</text>
<g><g transform="translate(685.83,489.10)"><text clip-path="url(#c1a)" font-size="38.2" font-weight="bold" fill="#231f20" stroke="#231f20" stroke-width="1.5">1</text></g><text x="707.08" y="489.1" font-size="38.2" font-weight="bold" fill="#231f20" stroke="#231f20" stroke-width="0.5">00</text></g>
<text transform="translate(27.8,420.5) rotate(-90)" font-size="38.6" font-weight="bold" fill="#231f20" stroke="#231f20" stroke-width="0.5"><tspan x="0">Leakage</tspan> <tspan x="164.3">Current</tspan> <tspan x="311.1" font-size="37.4">(A)</tspan></text>
<text y="535.2" font-size="38.2" font-weight="bold" fill="#231f20" stroke="#231f20" stroke-width="0.5"><tspan x="347.1">|</tspan><tspan x="357.0" font-size="39.2" font-style="italic">V</tspan><tspan x="382.5" y="543.5" font-size="25.8">bias</tspan><tspan x="444.0" y="535.2">|</tspan> <tspan x="465.0">(V)</tspan></text>
<text x="409.4" y="593.9" text-anchor="middle" font-size="33.6" fill="#231f20" stroke="#231f20" stroke-width="0.35">(a)</text>
<rect x="512.8" y="204.7" width="196.10" height="223.60" fill="#fff" stroke="#231f20" stroke-width="2.4"/>
<line x1="525.4" y1="224.0" x2="594.6" y2="224.0" stroke="#231f20" stroke-width="1.35"/>
<text x="598.6" y="235.8" font-size="38.2" font-weight="bold" fill="#231f20" stroke="#231f20" stroke-width="0.5">Ref.</text>
<line x1="525.4" y1="261.6" x2="594.6" y2="261.6" stroke="#231f20" stroke-width="1.35" stroke-dasharray="9.5 2.5"/>
<text x="598.6" y="272.5" font-size="38.2" font-weight="bold" fill="#231f20" stroke="#231f20" stroke-width="0.5">200 V</text>
<line x1="525.4" y1="298.7" x2="594.6" y2="298.7" stroke="#231f20" stroke-width="1.35" stroke-dasharray="6.5 2 1.2 2"/>
<text x="598.6" y="310.0" font-size="38.2" font-weight="bold" fill="#231f20" stroke="#231f20" stroke-width="0.5">350 V</text>
<line x1="525.4" y1="336.5" x2="594.6" y2="336.5" stroke="#231f20" stroke-width="1.35" stroke-dasharray="4 1.8"/>
<text x="598.6" y="347.0" font-size="38.2" font-weight="bold" fill="#231f20" stroke="#231f20" stroke-width="0.5">500 V</text>
<line x1="525.4" y1="373.6" x2="594.6" y2="373.6" stroke="#231f20" stroke-width="1.35" stroke-dasharray="2.2 0.9"/>
<text x="598.6" y="384.4" font-size="38.2" font-weight="bold" fill="#231f20" stroke="#231f20" stroke-width="0.5">650 V</text>
<line x1="525.4" y1="410.7" x2="594.6" y2="410.7" stroke="#231f20" stroke-width="1.35" stroke-dasharray="0.9 0.8"/>
<text x="598.6" y="421.5" font-size="38.2" font-weight="bold" fill="#231f20" stroke="#231f20" stroke-width="0.5">950 V</text>
<clipPath id="clipb"><rect x="151.05" y="679.9" width="570.55" height="437.10"/></clipPath>
<g clip-path="url(#clipb)" fill="none" stroke="#231f20" stroke-linejoin="round">
<polyline points="151.3,1116.5 151.5,1090.0 151.8,1070.0 153.6,1062.5 155.5,1058.1 159.2,1056.9 163.0,1053.8 165.5,1048.8 167.4,1046.2 170.5,1051.2 173.0,1047.5 176.8,1043.1 181.8,1038.8 184.2,1040.0 188.0,1041.9 191.8,1040.0 196.1,1037.5 198.6,1041.2 201.8,1038.8 204.9,1037.5 208.0,1034.4 213.0,1031.2 216.1,1033.8 220.5,1030.0 225.5,1027.5 229.2,1026.2 233.6,1028.8 238.0,1025.0 241.0,1026.2 243.5,1025.0 248.5,1020.6 254.8,1015.6 259.1,1012.5 262.2,1015.0 266.0,1010.0 271.0,1005.6 273.5,1003.8 277.2,1005.0 282.2,998.8 285.4,1003.8 288.5,998.8 292.2,995.0 297.2,991.9 299.8,993.8 303.5,989.4 307.9,985.6 311.0,990.0 314.8,985.6 318.5,983.1 322.2,981.2 325.4,983.8 330.0,978.8 334.0,975.5 337.5,977.5 342.0,972.5 347.5,970.0 352.5,966.2 356.2,968.8 361.2,963.8 364.4,966.2 370.0,960.6 375.0,957.5 380.0,955.0 385.0,950.0 388.1,950.6 392.5,945.6 397.5,941.9 402.5,936.9 407.5,931.2 411.2,928.1 414.0,927.5 420.0,921.5 427.0,915.7 433.8,910.0 441.2,902.5 450.0,893.8 455.0,890.6 462.5,883.8 475.0,872.5 487.5,861.9 494.0,856.5 505.0,847.5 517.5,836.2 530.0,825.6 542.5,815.0 555.0,805.0 567.5,795.0 572.5,791.2 585.0,780.6 597.5,770.0 610.0,759.4 616.2,755.0 622.5,751.9 625.0,747.5 630.0,744.4 636.2,738.5 646.5,729.8 659.0,719.8 661.5,714.8 669.0,711.0 675.2,706.0 679.0,699.8 686.5,693.5 690.2,690.4 694.0,684.1 699.0,681.0 703.0,677.0" stroke-width="1.5"/>
<polyline points="151.3,1115.8 151.3,1115.2 151.3,1113.4 151.3,1111.5 151.3,1109.3 151.4,1108.8 151.4,1107.2 151.4,1104.9 151.4,1103.2 151.4,1101.0 151.4,1098.9 151.4,1098.0 151.4,1096.8 151.5,1094.1 151.5,1093.8 151.5,1091.1 151.5,1089.4 151.5,1087.4 151.5,1087.6 151.5,1085.4 151.5,1084.1 151.6,1081.9 151.6,1079.0 151.6,1078.0 151.6,1076.7 151.6,1074.2 151.6,1074.3 151.7,1071.5 151.7,1069.4 151.8,1069.1 151.8,1066.0 151.9,1066.0 151.9,1063.4 151.9,1062.0 152.0,1059.9 152.0,1058.5 152.1,1056.3 152.1,1054.4 152.2,1054.4 152.2,1051.5 152.3,1050.8 152.4,1048.0 152.6,1047.8 152.7,1045.9 152.8,1043.9 152.9,1042.2 153.1,1040.1 153.2,1038.6 153.8,1035.5 154.4,1034.2 155.0,1033.0 157.0,1028.5 159.2,1028.2 161.1,1026.6 163.0,1024.1 164.9,1023.0 166.8,1022.2 168.6,1021.0 170.5,1021.3 172.4,1018.7 174.2,1016.7 176.8,1015.8 178.0,1019.0 179.2,1021.4 181.8,1019.0 183.6,1016.6 185.5,1014.5 187.2,1015.1 188.8,1014.3 190.5,1015.3 192.4,1015.4 194.2,1015.7 196.1,1013.0 198.0,1011.2 199.7,1010.9 201.3,1011.5 203.0,1009.7 204.9,1011.3 206.8,1011.8 208.6,1009.3 210.5,1007.0 212.2,1007.8 213.8,1007.1 215.5,1005.6 217.2,1005.3 218.8,1004.3 220.5,1003.8 222.2,1003.3 223.8,1001.7 225.5,1002.2 227.4,1002.5 229.2,1002.2 231.1,1000.8 233.0,998.1 234.7,997.5 236.3,996.9 238.0,997.9 240.0,995.5 242.0,994.3 243.6,996.0 245.2,996.1 246.9,995.7 248.5,996.6 250.6,994.2 252.7,993.7 254.8,993.0 256.8,992.3 258.9,990.9 261.0,989.7 263.1,989.0 265.2,988.8 267.2,987.7 269.3,985.9 271.4,984.1 273.5,982.4 275.6,982.5 277.7,980.3 279.8,979.4 281.8,976.9 283.9,976.2 286.0,976.4 288.1,975.2 290.2,974.3 292.2,972.7 294.3,971.5 296.4,970.9 298.5,970.6 300.6,968.6 302.7,968.2 304.8,966.8 306.8,966.6 308.9,964.1 311.0,964.2 313.1,963.5 315.2,960.6 317.2,960.4 319.3,959.3 321.4,958.6 323.5,957.0 325.1,955.7 326.8,955.0 328.4,954.9 330.0,954.0 331.8,951.6 333.5,950.3 335.2,949.0 337.0,947.7 338.8,946.9 340.8,945.2 342.9,944.6 345.0,943.0 347.1,941.0 349.2,940.0 351.2,938.4 353.3,936.8 355.4,934.7 357.5,932.9 359.6,931.3 361.7,929.8 363.8,928.5 365.8,926.8 367.9,924.9 370.0,923.8 372.1,922.3 374.2,920.5 376.2,918.8 378.3,916.7 380.4,915.2 382.5,913.3 384.6,912.1 386.7,910.3 388.8,909.1 390.8,907.3 392.9,906.0 395.0,904.3 397.1,902.4 399.2,900.8 401.2,898.9 402.9,897.7 404.6,895.9 406.2,894.4 408.3,893.0 410.4,891.7 412.5,889.8 414.6,888.4 416.7,886.6 418.8,885.1 420.8,883.6 422.9,881.7 425.0,880.3 427.1,878.7 429.2,877.3 431.2,875.6 433.3,874.8 435.4,873.6 437.5,872.1 439.6,870.7 441.7,869.7 443.8,867.8 445.8,866.5 447.9,865.2 450.0,864.3 452.1,862.7 454.2,861.1 456.2,859.6 458.3,857.6 460.4,856.2 462.5,854.4 464.6,852.9 466.7,851.2 468.8,849.6 470.8,848.1 472.9,846.6 475.0,845.3 477.1,843.8 479.2,842.5 481.2,841.1 482.9,839.7 484.6,838.2 486.2,836.7 488.3,835.6 490.4,834.4 492.5,833.2 494.6,832.0 496.7,830.1 498.8,828.9 500.8,827.3 502.9,825.7 505.0,824.2 507.0,822.3 509.0,820.4 511.0,818.6 513.0,817.8 515.0,817.0 517.0,816.1 519.0,815.5 521.0,814.7 523.0,814.4 524.8,813.7 526.5,813.4 528.2,813.1 530.0,812.7 531.7,812.3 533.3,811.4 535.0,811.2 536.9,809.9 538.8,808.7 540.6,807.3 542.5,806.3 544.4,805.1 546.2,804.3 548.1,803.7 550.0,802.6 551.7,801.0 553.3,799.4 555.0,798.3 556.7,797.2 558.3,795.9 560.0,794.9 561.8,793.7 563.6,792.4 565.4,790.9 567.1,789.9 568.9,788.2 570.7,786.8 572.5,785.8 574.3,784.1 576.1,783.0 577.9,781.4 579.6,780.3 581.4,778.8 583.2,777.5 585.0,776.5 586.8,774.9 588.6,773.5 590.4,772.3 592.1,770.8 593.9,769.4 595.7,768.2 597.5,766.8 599.3,765.4 601.1,764.4 602.9,762.6 604.6,761.7 606.4,760.4 608.2,758.9 610.0,757.3 611.9,756.3 613.8,754.8 615.6,753.8 617.5,752.6 619.2,751.5 620.8,750.6 622.5,750.0 624.3,748.3 626.2,746.9 628.0,745.5 630.0,743.8 632.0,741.6 634.0,739.6 635.8,738.6 637.6,737.2 639.4,735.8 641.1,734.2 642.9,732.9 644.7,731.7 646.5,730.4 648.3,728.8 650.1,727.7 651.9,726.3 653.6,724.9 655.4,723.4 657.2,721.6 659.0,720.4 660.9,719.2 662.8,718.7 664.6,717.1 666.5,715.5 668.4,713.7 670.2,712.0 672.3,711.2 674.4,709.8 676.5,708.6 677.8,706.6 679.0,704.9 680.2,702.8 681.5,700.9 683.6,699.5 685.7,698.0 687.8,696.7 689.5,695.7 691.2,694.1 693.0,693.0 694.8,692.1 696.5,691.1 698.4,688.6 700.2,686.5 702.0,685.3 703.8,684.1 705.5,683.2 707.2,682.2 709.0,681.1 710.7,679.7 712.3,678.5 714.0,677.7" stroke-width="1.75" stroke-dasharray="9.5 2.5"/>
<polyline points="151.3,1117.4 151.3,1114.1 151.3,1112.2 151.3,1112.5 151.3,1109.2 151.4,1107.4 151.4,1106.8 151.4,1104.6 151.4,1104.0 151.4,1101.0 151.4,1100.8 151.4,1097.9 151.4,1096.8 151.5,1095.8 151.5,1093.6 151.5,1092.4 151.5,1090.4 151.5,1087.4 151.5,1087.4 151.5,1085.1 151.5,1082.9 151.6,1081.0 151.6,1080.7 151.6,1078.5 151.6,1077.5 151.6,1075.5 151.6,1074.3 151.7,1071.8 151.7,1070.5 151.8,1068.7 151.8,1066.3 151.9,1066.1 151.9,1063.1 151.9,1062.4 152.0,1061.1 152.0,1058.9 152.1,1056.2 152.1,1055.9 152.2,1054.0 152.2,1051.4 152.3,1049.4 152.5,1048.6 152.6,1045.9 152.8,1046.0 152.9,1043.4 153.1,1041.7 153.2,1039.8 153.8,1038.5 154.4,1037.2 155.0,1034.1 157.0,1031.2 159.2,1030.2 161.1,1028.0 163.0,1027.1 164.9,1025.4 166.8,1023.6 168.6,1023.2 170.5,1022.0 172.4,1019.8 174.2,1020.4 176.8,1017.8 178.0,1020.2 179.2,1022.3 181.8,1021.5 183.0,1019.8 184.2,1017.3 185.5,1015.4 187.2,1015.0 188.8,1016.8 190.5,1015.6 192.4,1016.7 194.2,1016.6 196.1,1014.7 198.0,1012.8 199.7,1011.9 201.3,1010.9 203.0,1011.3 204.9,1012.8 206.8,1013.4 208.6,1010.3 210.5,1009.1 212.2,1007.2 213.8,1007.3 215.5,1007.6 217.2,1006.7 218.8,1004.7 220.5,1004.4 222.2,1003.1 223.8,1002.6 225.5,1002.1 227.4,1003.5 229.2,1003.6 231.1,1000.9 233.0,999.2 234.7,998.6 236.3,997.6 238.0,998.1 240.0,997.3 242.0,996.0 243.6,996.9 245.2,995.2 246.9,996.4 248.5,996.9 250.6,995.4 252.7,994.3 254.8,994.5 256.8,993.0 258.9,991.8 261.0,990.4 263.1,990.9 265.2,988.4 267.2,986.6 269.3,985.6 271.4,984.4 273.5,984.3 275.6,981.6 277.7,980.5 279.8,978.8 281.8,978.5 283.9,976.9 286.0,976.1 288.1,975.8 290.2,975.1 292.2,973.9 294.3,971.4 296.4,971.2 298.5,971.3 300.6,968.8 302.7,968.2 304.8,967.9 306.8,966.6 308.9,966.2 311.0,965.0 313.1,963.3 315.2,961.7 317.2,960.4 319.3,959.4 321.4,958.0 323.5,957.9 325.5,957.7 327.5,959.3 329.2,957.7 330.8,955.6 332.5,955.0 334.2,954.0 335.8,952.1 337.5,951.5 339.2,949.8 340.8,949.6 342.5,947.5 344.4,947.2 346.2,946.5 348.1,945.2 350.0,943.5 351.9,941.9 353.8,939.6 355.6,938.0 357.5,936.6 359.2,935.3 360.8,933.3 362.5,932.4 364.2,931.4 365.8,929.8 367.5,929.0 369.2,927.7 370.8,926.1 372.5,924.6 374.2,923.5 375.8,922.0 377.5,920.4 379.4,919.1 381.2,917.6 383.1,916.6 385.0,915.0 386.7,913.8 388.3,912.7 390.0,911.5 391.7,909.8 393.3,908.7 395.0,907.7 396.7,906.1 398.3,904.3 400.0,902.9 402.1,901.1 404.2,899.5 406.2,897.9 408.3,896.8 410.4,895.5 412.5,894.4 414.2,893.3 416.0,891.5 417.8,890.3 419.5,889.1 421.2,887.5 422.9,886.4 424.6,885.3 426.2,883.8 427.9,883.1 429.6,881.8 431.2,880.8 433.0,879.8 434.8,878.4 436.5,877.4 438.2,876.4 440.0,875.6 441.7,874.5 443.3,873.1 445.0,871.5 446.7,870.3 448.3,869.0 450.0,867.4 451.9,866.5 453.8,865.2 455.6,863.9 457.5,862.7 459.2,861.2 460.8,859.7 462.5,858.0 464.2,856.6 465.8,855.1 467.5,853.5 469.4,852.7 471.2,851.1 473.1,849.8 475.0,848.7 476.7,847.3 478.3,846.3 480.0,845.0 481.7,843.8 483.3,842.7 485.0,841.5 486.7,840.6 488.3,839.9 490.0,838.8 491.7,838.0 493.3,837.3 495.0,836.5 496.9,834.6 498.8,832.9 500.6,831.8 502.5,830.0 504.4,829.0 506.2,828.1 508.1,827.2 510.0,826.4 511.9,825.6 513.8,824.8 515.6,824.5 517.5,823.7 519.6,822.5 521.7,821.8 523.8,821.2 525.6,822.3 527.5,823.3 529.4,822.2 531.2,820.9 532.9,820.4 534.6,819.4 536.2,818.6 538.3,818.0 540.4,817.1 542.5,816.8 544.2,816.1 545.8,815.2 547.5,814.2 549.2,814.7 550.8,815.2 552.5,815.8 554.2,814.8 555.8,814.0 557.5,813.1 560.0,811.1 561.9,810.3 563.8,809.4 565.6,808.5 567.5,807.3 569.4,806.8 571.2,805.7 573.1,804.6 575.0,803.6 576.7,803.0 578.3,802.3 580.0,801.2 581.9,800.1 583.8,799.1 585.6,797.8 587.5,796.9 589.2,796.2 590.8,795.0 592.5,794.2 594.2,793.0 595.8,792.4 597.5,791.4 599.2,790.2 600.8,789.4 602.5,788.5 604.2,787.5 605.8,786.6 607.5,785.4 609.4,784.2 611.2,782.7 613.1,781.7 615.0,779.9 616.9,779.2 618.8,777.6 620.6,776.0 622.5,774.9 624.2,773.7 625.8,773.6 627.5,771.8 629.2,771.4 630.8,769.9 632.5,769.5 634.2,766.8 635.8,765.9 637.5,764.2 639.2,762.1 640.8,760.6 642.5,759.7 644.2,758.7 645.8,756.6 647.5,754.7 649.2,753.6 651.0,752.4 652.8,749.7 654.8,749.9 656.9,748.1 659.0,746.6 661.1,744.4 663.2,742.7 665.2,740.8 667.3,738.8 669.4,737.2 671.5,736.5 673.6,734.4 675.7,733.0 677.8,731.4 679.8,730.1 681.9,728.2 684.0,726.0 686.1,724.3 688.2,723.7 690.2,720.7 692.3,718.8 694.4,716.6 696.5,715.7 698.6,714.0 700.7,713.4 702.8,711.7 704.8,709.5 706.9,708.0 709.0,706.8 711.1,704.4 713.2,703.6 715.2,701.3 716.9,699.1 718.6,697.9 720.2,696.5 722.1,694.3 724.0,693.8" stroke-width="1.6" stroke-dasharray="6.5 2 1.4 2"/>
<polyline points="151.3,1117.5 151.3,1115.9 151.3,1114.1 151.3,1110.5 151.3,1110.1 151.4,1108.0 151.4,1106.6 151.4,1104.0 151.4,1102.5 151.4,1101.4 151.4,1099.2 151.4,1098.1 151.4,1095.4 151.5,1093.9 151.5,1093.8 151.5,1091.4 151.5,1090.0 151.5,1088.8 151.5,1086.3 151.5,1083.9 151.5,1084.0 151.6,1081.9 151.6,1080.4 151.6,1078.6 151.6,1077.8 151.6,1074.7 151.6,1074.0 151.7,1071.4 151.7,1070.2 151.8,1068.8 151.8,1066.3 151.9,1064.1 151.9,1063.4 151.9,1062.4 152.0,1060.4 152.0,1058.4 152.1,1057.3 152.1,1054.5 152.2,1052.9 152.2,1051.6 152.3,1051.1 152.4,1047.9 152.5,1046.0 152.6,1044.2 152.7,1042.4 152.8,1041.3 152.9,1040.3 153.0,1039.2 153.1,1036.3 153.2,1034.7 153.6,1032.8 154.1,1031.2 154.6,1030.7 155.0,1028.6 156.0,1026.1 157.0,1024.0 159.2,1023.3 161.1,1021.7 163.0,1020.4 164.9,1019.0 166.8,1019.7 168.6,1019.5 170.5,1017.6 172.4,1017.1 174.2,1013.8 176.8,1015.1 179.2,1015.8 181.8,1015.9 183.6,1013.0 185.5,1012.9 187.2,1013.0 188.8,1014.0 190.5,1013.9 192.4,1014.2 194.2,1013.1 196.1,1012.4 198.0,1010.2 199.7,1008.6 201.3,1009.5 203.0,1007.5 204.9,1008.5 206.8,1009.7 208.6,1008.5 210.5,1005.6 212.2,1006.7 213.8,1006.0 215.5,1003.5 217.2,1002.4 218.8,1002.6 220.5,1000.9 222.2,1001.3 223.8,1001.4 225.5,999.6 227.4,999.9 229.2,1001.0 231.1,998.4 233.0,996.7 234.7,997.8 236.3,997.4 238.0,997.3 240.0,995.7 242.0,993.8 243.6,994.7 245.2,995.3 246.9,995.1 248.5,994.4 250.6,993.7 252.7,993.1 254.8,993.2 256.8,991.7 258.9,990.8 261.0,990.5 263.1,987.5 265.2,987.4 267.2,985.4 269.3,984.7 271.4,984.1 273.5,981.4 275.6,981.8 277.7,978.3 279.8,978.1 281.8,977.0 283.9,975.2 286.0,974.9 288.1,973.7 290.2,972.5 292.2,972.1 294.3,969.5 296.4,969.6 298.5,969.7 300.6,967.2 302.7,968.1 304.8,965.6 306.8,965.6 308.9,963.4 311.0,962.9 313.1,961.6 315.2,959.7 317.2,959.7 319.3,958.2 321.4,957.5 323.5,956.1 325.1,955.2 326.8,954.3 328.4,953.0 330.0,953.2 331.8,951.3 333.5,952.1 335.2,951.5 337.0,950.4 338.8,950.3 340.8,948.8 342.9,947.3 345.0,945.5 347.1,944.2 349.2,942.8 351.2,941.4 353.3,940.1 355.4,937.4 357.5,935.4 359.6,933.9 361.7,932.7 363.8,930.8 365.8,929.3 367.9,927.5 370.0,925.9 372.1,924.1 374.2,922.5 376.2,920.8 378.3,919.5 380.4,917.7 382.5,915.9 384.6,914.6 386.7,912.8 388.8,911.5 390.8,909.9 392.9,908.5 395.0,906.7 397.1,905.1 399.2,903.0 401.2,901.5 402.9,900.0 404.6,898.4 406.2,897.4 408.3,895.9 410.4,894.6 412.5,893.2 414.6,891.9 416.7,889.9 418.8,888.6 420.8,886.9 422.9,885.5 425.0,883.8 427.1,882.2 429.2,881.2 431.2,879.6 433.3,878.2 435.4,877.4 437.5,876.2 439.6,874.3 441.7,872.8 443.8,871.6 445.8,869.8 447.9,868.5 450.0,866.7 452.1,865.4 454.2,864.0 456.2,862.6 458.3,860.9 460.4,859.1 462.5,857.4 464.6,855.5 466.7,853.7 468.8,852.0 470.8,851.0 472.9,849.2 475.0,848.0 477.1,846.4 479.2,845.1 481.2,843.5 482.9,842.5 484.6,841.1 486.2,839.9 488.3,838.9 490.4,837.8 492.5,836.8 494.6,835.0 496.7,833.8 498.8,832.4 500.8,831.0 502.9,829.2 505.0,827.9 507.1,827.1 509.2,826.2 511.2,824.9 513.3,824.2 515.4,823.6 517.5,822.8 519.2,822.0 520.8,821.2 522.5,820.7 524.4,821.2 526.2,821.9 528.1,821.5 530.0,821.2 532.1,820.2 534.2,819.2 536.2,818.3 538.3,817.7 540.4,817.3 542.5,816.6 544.2,815.6 545.8,815.2 547.5,814.2 549.2,815.0 550.8,815.4 552.5,816.0 554.4,815.2 556.2,814.5 558.1,813.9 560.0,813.2 561.9,812.3 563.8,811.5 565.6,810.5 567.5,810.2 569.4,809.1 571.2,808.3 573.1,807.4 575.0,806.6 576.7,806.0 578.3,805.6 580.0,804.8 581.7,804.1 583.3,803.3 585.0,802.4 586.7,801.4 588.3,800.8 590.0,799.6 591.7,798.9 593.3,797.9 595.0,797.0 596.9,794.8 598.8,792.8 600.6,792.2 602.5,791.3 604.2,790.3 605.8,788.7 607.5,787.6 609.4,785.9 611.2,784.1 613.1,782.3 615.0,780.2 616.9,779.0 618.8,778.2 620.6,776.1 622.5,774.8 624.2,774.2 625.8,773.4 627.5,772.9 629.2,771.2 630.8,771.1 632.5,768.7 634.2,768.2 635.8,766.2 637.5,765.0 639.2,762.6 640.8,762.2 642.5,761.3 644.2,759.4 645.8,757.1 647.5,756.9 649.2,755.3 651.0,752.1 652.8,751.5 654.8,749.3 656.9,748.3 659.0,748.4 661.1,746.2 663.2,744.4 665.2,741.8 667.3,740.2 669.4,738.3 671.5,737.4 673.6,736.4 675.7,734.2 677.8,732.9 679.8,730.1 681.9,729.3 684.0,727.6 686.1,724.9 688.2,724.4 690.2,721.7 692.3,719.7 694.4,717.4 696.5,716.3 698.6,714.2 700.7,714.3 702.8,711.5 704.8,711.1 706.9,709.3 709.0,707.4 711.1,705.7 713.2,704.4 715.2,702.5 716.9,700.0 718.6,699.4 720.2,697.0 722.1,695.8 724.0,694.0" stroke-width="1.5" stroke-dasharray="4 1.8"/>
<polyline points="151.3,1116.9 151.3,1115.5 151.3,1112.5 151.3,1112.5 151.3,1109.2 151.4,1108.5 151.4,1105.7 151.4,1105.4 151.4,1102.5 151.4,1102.0 151.4,1100.3 151.4,1098.8 151.4,1096.5 151.5,1095.7 151.5,1094.2 151.5,1090.8 151.5,1090.0 151.5,1089.2 151.5,1087.1 151.5,1084.8 151.5,1082.9 151.6,1082.5 151.6,1079.2 151.6,1078.8 151.6,1077.3 151.6,1074.3 151.6,1073.0 151.7,1071.3 151.7,1070.2 151.8,1068.2 151.8,1067.6 151.9,1066.0 151.9,1063.1 151.9,1062.6 152.0,1059.4 152.0,1057.8 152.1,1057.3 152.1,1055.9 152.2,1054.3 152.2,1053.0 152.3,1051.1 152.3,1048.2 152.4,1047.5 152.5,1046.2 152.5,1042.9 152.6,1042.0 152.7,1039.6 152.7,1038.0 152.8,1037.0 152.9,1035.7 152.9,1034.6 153.0,1031.3 153.3,1030.3 153.6,1029.5 153.9,1027.3 154.2,1025.1 155.1,1022.8 155.9,1021.9 156.8,1019.5 158.0,1018.6 159.2,1017.0 160.5,1014.8 162.4,1014.6 164.2,1012.9 166.8,1016.2 168.6,1015.7 170.5,1013.3 172.4,1011.5 174.2,1010.7 176.1,1010.5 178.0,1011.3 180.5,1013.2 182.4,1011.6 184.2,1009.1 186.1,1009.0 188.0,1007.7 189.9,1009.9 191.8,1012.4 193.6,1009.4 195.5,1009.7 197.4,1007.6 199.2,1006.2 201.1,1005.4 203.0,1005.2 204.9,1006.7 206.8,1008.5 208.6,1006.0 210.5,1004.0 212.2,1003.2 213.8,1002.4 215.5,1002.7 217.2,1001.9 218.8,1000.9 220.5,999.0 222.2,999.1 223.8,999.3 225.5,999.1 227.4,998.0 229.2,997.8 230.9,997.5 232.6,995.4 234.2,994.8 236.1,995.8 238.0,995.1 240.0,994.5 242.0,992.4 243.6,991.6 245.2,992.4 246.9,991.6 248.5,993.0 250.6,992.3 252.7,990.8 254.8,990.7 256.8,988.4 258.9,987.9 261.0,986.5 263.1,984.9 265.2,985.1 267.2,982.3 269.3,982.8 271.4,980.8 273.5,979.8 275.6,977.2 277.7,977.5 279.8,976.0 281.8,973.5 283.9,972.6 286.0,971.5 288.1,971.1 290.2,969.2 292.2,969.6 294.3,968.1 296.4,967.7 298.5,965.9 300.6,965.8 302.7,964.5 304.8,964.0 306.8,962.4 308.9,962.4 311.0,961.0 313.1,959.7 315.2,957.7 317.2,956.2 319.3,955.0 321.4,953.9 323.5,954.1 325.3,951.6 327.1,951.1 328.9,948.7 330.7,947.8 332.5,945.9 334.6,944.7 336.7,944.1 338.8,942.6 340.8,941.6 342.9,939.3 345.0,937.8 347.1,936.2 349.2,934.9 351.2,934.2 353.3,932.4 355.4,930.8 357.5,929.3 359.6,927.9 361.7,926.2 363.8,924.2 365.8,922.6 367.9,921.3 370.0,920.2 372.1,918.5 374.2,916.5 376.2,914.9 378.3,913.0 380.4,911.3 382.5,909.5 384.6,907.8 386.7,906.4 388.8,904.9 390.8,903.7 392.9,902.1 395.0,900.8 397.1,898.8 399.2,897.3 401.2,895.6 402.9,893.9 404.6,891.7 406.2,889.8 408.3,888.3 410.4,886.5 412.5,884.6 414.6,882.8 416.7,881.0 418.8,879.4 420.8,877.9 422.9,876.0 425.0,874.4 427.1,873.0 429.2,871.4 431.2,869.8 433.3,868.8 435.4,867.7 437.5,866.4 439.6,864.9 441.7,863.9 443.8,862.6 445.8,861.7 447.9,860.8 450.0,859.9 452.1,858.4 454.2,856.7 456.2,854.9 458.3,853.2 460.4,851.5 462.5,850.1 464.6,848.7 466.7,847.1 468.8,845.6 470.8,844.2 472.9,842.6 475.0,841.3 477.1,839.8 479.2,838.5 481.2,836.8 482.9,835.4 484.6,833.5 486.2,832.0 488.3,830.8 490.4,829.0 492.5,827.8 494.6,826.3 496.7,825.1 498.8,823.7 500.8,822.7 502.9,821.2 505.0,820.2 507.1,819.1 509.2,818.1 511.2,816.8 513.3,816.1 515.4,815.7 517.5,814.8 519.2,814.6 520.8,814.0 522.5,813.8 524.4,815.1 526.2,816.4 528.1,815.0 530.0,813.9 532.1,814.8 534.2,815.9 536.2,816.4 538.3,816.2 540.4,815.8 542.5,815.3 544.2,814.8 545.8,814.1 547.5,813.5 549.2,814.2 550.8,814.8 552.5,815.2 554.2,814.6 555.8,813.8 557.5,813.1 560.0,813.6 562.1,813.0 564.2,812.6 566.2,811.9 568.3,811.5 570.4,811.0 572.5,810.6 574.4,811.6 576.2,812.6 577.9,812.4 579.6,812.3 581.2,811.9 583.3,810.9 585.4,810.2 587.5,809.5 589.6,808.5 591.7,807.3 593.8,806.1 595.8,805.3 597.9,804.6 600.0,803.7 602.5,801.1 603.1,799.8 603.8,797.8 604.4,796.5 605.4,794.7 606.5,793.2 607.5,791.4 609.2,789.8 610.8,788.6 612.5,787.8 614.2,786.2 615.8,785.0 617.5,784.0 620.0,781.4 621.2,779.4 622.5,777.0 624.2,775.6 625.8,775.0 627.5,773.2 629.2,772.9 630.8,772.1 632.5,770.2 634.2,768.4 635.8,768.2 637.5,765.5 639.2,764.8 640.8,763.2 642.5,761.8 644.2,760.5 645.8,758.7 647.5,758.5 649.2,756.7 651.0,755.0 652.8,752.3 654.8,751.5 656.9,749.9 659.0,750.0 661.1,748.2 663.2,746.2 665.2,744.0 667.3,742.1 669.4,740.4 671.5,738.3 673.6,736.5 675.7,735.8 677.8,734.6 679.8,733.0 681.9,730.4 684.0,728.9 686.1,727.8 688.2,725.2 690.2,724.3 692.3,722.1 694.4,719.8 696.5,717.7 698.6,716.0 700.7,714.7 702.8,713.6 704.8,713.0 706.9,711.1 709.0,708.1 711.1,707.6 713.2,705.0 715.2,704.0 716.9,702.9 718.6,701.2 720.2,699.5 722.1,698.2 724.0,696.1" stroke-width="1.75" stroke-dasharray="1.5 2.0"/>
</g>
<rect x="151.05" y="679.9" width="570.55" height="437.10" fill="none" stroke="#231f20" stroke-width="2.45"/>
<g stroke="#231f20" stroke-width="2.3"><rect x="151.05" y="679.90" width="8.3" height="4.40" fill="#231f20" stroke="none"/><line x1="151.05" y1="688.40" x2="159.35" y2="688.40" stroke-width="2.7"/><line x1="151.05" y1="692.60" x2="159.35" y2="692.60"/><line x1="151.05" y1="698.00" x2="159.35" y2="698.00"/><line x1="151.05" y1="703.60" x2="159.35" y2="703.60"/><line x1="151.05" y1="710.60" x2="159.35" y2="710.60"/><line x1="151.05" y1="722.90" x2="159.35" y2="722.90"/><line x1="151.05" y1="767.32" x2="162.35" y2="767.32"/><rect x="151.05" y="768.62" width="8.3" height="6.20" fill="#231f20" stroke="none"/><line x1="151.05" y1="777.52" x2="159.35" y2="777.52"/><line x1="151.05" y1="780.82" x2="159.35" y2="780.82"/><line x1="151.05" y1="784.32" x2="159.35" y2="784.32"/><line x1="151.05" y1="789.92" x2="159.35" y2="789.92"/><line x1="151.05" y1="797.92" x2="159.35" y2="797.92"/><line x1="151.05" y1="810.62" x2="159.35" y2="810.62"/><line x1="151.05" y1="854.74" x2="162.35" y2="854.74"/><rect x="151.05" y="856.04" width="8.3" height="6.20" fill="#231f20" stroke="none"/><line x1="151.05" y1="864.94" x2="159.35" y2="864.94"/><line x1="151.05" y1="868.24" x2="159.35" y2="868.24"/><line x1="151.05" y1="871.74" x2="159.35" y2="871.74"/><line x1="151.05" y1="877.34" x2="159.35" y2="877.34"/><line x1="151.05" y1="885.34" x2="159.35" y2="885.34"/><line x1="151.05" y1="898.04" x2="159.35" y2="898.04"/><line x1="151.05" y1="942.16" x2="162.35" y2="942.16"/><rect x="151.05" y="943.46" width="8.3" height="6.20" fill="#231f20" stroke="none"/><line x1="151.05" y1="952.36" x2="159.35" y2="952.36"/><line x1="151.05" y1="955.66" x2="159.35" y2="955.66"/><line x1="151.05" y1="959.16" x2="159.35" y2="959.16"/><line x1="151.05" y1="964.76" x2="159.35" y2="964.76"/><line x1="151.05" y1="972.76" x2="159.35" y2="972.76"/><line x1="151.05" y1="985.46" x2="159.35" y2="985.46"/><line x1="151.05" y1="1029.58" x2="162.35" y2="1029.58"/><rect x="151.05" y="1030.88" width="8.3" height="6.20" fill="#231f20" stroke="none"/><line x1="151.05" y1="1039.78" x2="159.35" y2="1039.78"/><line x1="151.05" y1="1043.08" x2="159.35" y2="1043.08"/><line x1="151.05" y1="1046.58" x2="159.35" y2="1046.58"/><line x1="151.05" y1="1052.18" x2="159.35" y2="1052.18"/><line x1="151.05" y1="1060.18" x2="159.35" y2="1060.18"/><line x1="151.05" y1="1072.88" x2="159.35" y2="1072.88"/><line x1="265.16" y1="1117.0" x2="265.16" y2="1106.4"/><line x1="379.27" y1="1117.0" x2="379.27" y2="1106.4"/><line x1="493.38" y1="1117.0" x2="493.38" y2="1106.4"/><line x1="607.49" y1="1117.0" x2="607.49" y2="1106.4"/></g>
<g><g transform="translate(51.00,696.30)"><text clip-path="url(#c1a)" font-size="38.2" font-weight="bold" fill="#231f20" stroke="#231f20" stroke-width="1.5">1</text></g><text x="72.25" y="696.3" font-size="38.2" font-weight="bold" fill="#231f20" stroke="#231f20" stroke-width="0.5">0</text><text x="94.29" y="684.6" font-size="26.5" font-weight="bold" fill="#231f20" stroke="#231f20" stroke-width="0.5" textLength="13.6" lengthAdjust="spacingAndGlyphs">−</text><text x="107.89" y="684.6" font-size="26.5" font-weight="bold" fill="#231f20" stroke="#231f20" stroke-width="0.5">2</text></g>
<g><g transform="translate(51.00,783.00)"><text clip-path="url(#c1a)" font-size="38.2" font-weight="bold" fill="#231f20" stroke="#231f20" stroke-width="1.5">1</text></g><text x="72.25" y="783.0" font-size="38.2" font-weight="bold" fill="#231f20" stroke="#231f20" stroke-width="0.5">0</text><text x="94.29" y="771.3" font-size="26.5" font-weight="bold" fill="#231f20" stroke="#231f20" stroke-width="0.5" textLength="13.6" lengthAdjust="spacingAndGlyphs">−</text><text x="107.89" y="771.3" font-size="26.5" font-weight="bold" fill="#231f20" stroke="#231f20" stroke-width="0.5">4</text></g>
<g><g transform="translate(51.00,869.70)"><text clip-path="url(#c1a)" font-size="38.2" font-weight="bold" fill="#231f20" stroke="#231f20" stroke-width="1.5">1</text></g><text x="72.25" y="869.7" font-size="38.2" font-weight="bold" fill="#231f20" stroke="#231f20" stroke-width="0.5">0</text><text x="94.29" y="858.0" font-size="26.5" font-weight="bold" fill="#231f20" stroke="#231f20" stroke-width="0.5" textLength="13.6" lengthAdjust="spacingAndGlyphs">−</text><text x="107.89" y="858.0" font-size="26.5" font-weight="bold" fill="#231f20" stroke="#231f20" stroke-width="0.5">6</text></g>
<g><g transform="translate(51.00,956.40)"><text clip-path="url(#c1a)" font-size="38.2" font-weight="bold" fill="#231f20" stroke="#231f20" stroke-width="1.5">1</text></g><text x="72.25" y="956.4" font-size="38.2" font-weight="bold" fill="#231f20" stroke="#231f20" stroke-width="0.5">0</text><text x="94.29" y="944.7" font-size="26.5" font-weight="bold" fill="#231f20" stroke="#231f20" stroke-width="0.5" textLength="13.6" lengthAdjust="spacingAndGlyphs">−</text><text x="107.89" y="944.7" font-size="26.5" font-weight="bold" fill="#231f20" stroke="#231f20" stroke-width="0.5">8</text></g>
<g><g transform="translate(51.00,1043.10)"><text clip-path="url(#c1a)" font-size="38.2" font-weight="bold" fill="#231f20" stroke="#231f20" stroke-width="1.5">1</text></g><text x="72.25" y="1043.1" font-size="38.2" font-weight="bold" fill="#231f20" stroke="#231f20" stroke-width="0.5">0</text><text x="94.29" y="1031.4" font-size="26.5" font-weight="bold" fill="#231f20" stroke="#231f20" stroke-width="0.5" textLength="13.6" lengthAdjust="spacingAndGlyphs">−</text><g transform="translate(107.89,1031.40)"><text clip-path="url(#c1b)" font-size="26.5" font-weight="bold" fill="#231f20" stroke="#231f20" stroke-width="1.1">1</text></g><text x="122.63" y="1031.4" font-size="26.5" font-weight="bold" fill="#231f20" stroke="#231f20" stroke-width="0.5">0</text></g>
<g><g transform="translate(51.00,1129.80)"><text clip-path="url(#c1a)" font-size="38.2" font-weight="bold" fill="#231f20" stroke="#231f20" stroke-width="1.5">1</text></g><text x="72.25" y="1129.8" font-size="38.2" font-weight="bold" fill="#231f20" stroke="#231f20" stroke-width="0.5">0</text><text x="94.29" y="1118.1" font-size="26.5" font-weight="bold" fill="#231f20" stroke="#231f20" stroke-width="0.5" textLength="13.6" lengthAdjust="spacingAndGlyphs">−</text><g transform="translate(107.89,1118.10)"><text clip-path="url(#c1b)" font-size="26.5" font-weight="bold" fill="#231f20" stroke="#231f20" stroke-width="1.1">1</text></g><text x="122.63" y="1118.1" font-size="26.5" font-weight="bold" fill="#231f20" stroke="#231f20" stroke-width="0.5">2</text></g>
<text x="153.0" y="1155.4" text-anchor="middle" font-size="38.2" font-weight="bold" fill="#231f20" stroke="#231f20" stroke-width="0.5">0</text>
<text x="264.4" y="1155.4" text-anchor="middle" font-size="38.2" font-weight="bold" fill="#231f20" stroke="#231f20" stroke-width="0.5">20</text>
<text x="380.5" y="1155.4" text-anchor="middle" font-size="38.2" font-weight="bold" fill="#231f20" stroke="#231f20" stroke-width="0.5">40</text>
<text x="495.2" y="1155.4" text-anchor="middle" font-size="38.2" font-weight="bold" fill="#231f20" stroke="#231f20" stroke-width="0.5">60</text>
<text x="609.6" y="1155.4" text-anchor="middle" font-size="38.2" font-weight="bold" fill="#231f20" stroke="#231f20" stroke-width="0.5">80</text>
<g><g transform="translate(689.43,1155.40)"><text clip-path="url(#c1a)" font-size="38.2" font-weight="bold" fill="#231f20" stroke="#231f20" stroke-width="1.5">1</text></g><text x="710.68" y="1155.4" font-size="38.2" font-weight="bold" fill="#231f20" stroke="#231f20" stroke-width="0.5">00</text></g>
<text transform="translate(27.8,1086.9) rotate(-90)" font-size="38.6" font-weight="bold" fill="#231f20" stroke="#231f20" stroke-width="0.5"><tspan x="0">Leakage</tspan> <tspan x="164.3">Current</tspan> <tspan x="311.1" font-size="37.4">(A)</tspan></text>
<text y="1198.5" font-size="38.2" font-weight="bold" fill="#231f20" stroke="#231f20" stroke-width="0.5"><tspan x="344.6">|</tspan><tspan x="355.0" font-size="39.2" font-style="italic">V</tspan><tspan x="382.0" y="1206.8" font-size="25.8">bias</tspan><tspan x="443.3" y="1198.5">|</tspan> <tspan x="464.5">(V)</tspan></text>
<text x="409.4" y="1258.4" text-anchor="middle" font-size="33.6" fill="#231f20" stroke="#231f20" stroke-width="0.35">(b)</text>
<rect x="515.1" y="903.4" width="194.90" height="185.90" fill="#fff" stroke="#231f20" stroke-width="2.4"/>
<line x1="527.0" y1="922.4" x2="596.0" y2="922.4" stroke="#231f20" stroke-width="1.35"/>
<text x="599.5" y="933.7" font-size="38.2" font-weight="bold" fill="#231f20" stroke="#231f20" stroke-width="0.5">Ref.</text>
<line x1="527.0" y1="959.6" x2="596.0" y2="959.6" stroke="#231f20" stroke-width="1.35" stroke-dasharray="9.5 2.5"/>
<text x="599.5" y="970.5" font-size="38.2" font-weight="bold" fill="#231f20" stroke="#231f20" stroke-width="0.5">200 V</text>
<line x1="527.0" y1="996.2" x2="596.0" y2="996.2" stroke="#231f20" stroke-width="1.35" stroke-dasharray="6.5 2 1.2 2"/>
<text x="599.5" y="1007.5" font-size="38.2" font-weight="bold" fill="#231f20" stroke="#231f20" stroke-width="0.5">400 V</text>
<line x1="527.0" y1="1033.5" x2="596.0" y2="1033.5" stroke="#231f20" stroke-width="1.35" stroke-dasharray="4 1.8"/>
<text x="599.5" y="1044.3" font-size="38.2" font-weight="bold" fill="#231f20" stroke="#231f20" stroke-width="0.5">600 V</text>
<line x1="527.0" y1="1071.7" x2="596.0" y2="1071.7" stroke="#231f20" stroke-width="1.35" stroke-dasharray="0.9 0.8"/>
<text x="599.5" y="1082.0" font-size="38.2" font-weight="bold" fill="#231f20" stroke="#231f20" stroke-width="0.5">800 V</text>
</svg></body></html>
